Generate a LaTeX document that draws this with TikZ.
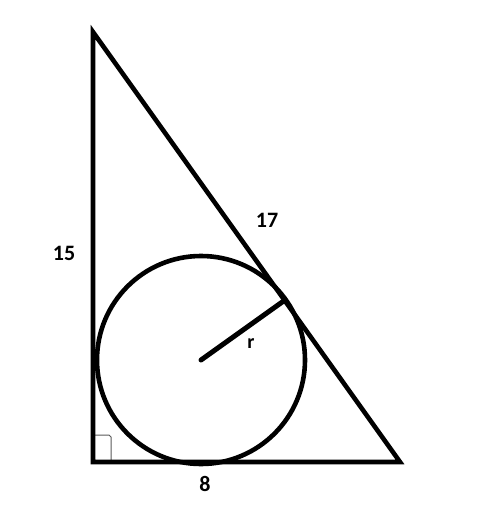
\documentclass[tikz,border=0pt]{standalone}
\usepackage{fontspec}
\setmainfont{Carlito}
\usetikzlibrary{calc}
\tikzset{
    side/.style={line width=4.6pt, line join=miter},
    lbl/.style={font=\fontsize{22}{26}\selectfont\bfseries, inner sep=0pt}
}
\begin{document}
\begin{tikzpicture}[x=1pt,y=-1pt]
    \useasboundingbox (0,0) rectangle (478,529);

    % Triangle corners (A top, B right angle, C right)
    \coordinate (A) at (93,32);
    \coordinate (B) at (93,462);
    \coordinate (C) at (400,462);

    % Incircle centre and tangent point on the hypotenuse
    \coordinate (O) at (201,360);
    \coordinate (T) at (285,300);

    % Right angle mark
    \draw[gray!70!black, line width=1pt] (93,435) -- (109,435) -- (111,437) -- (111,462);

    % Sides
    \draw[side] (A)--(B)--(C)--cycle;

    % Incircle and radius
    \draw[line width=4.6pt] (O) circle (104);
    \draw[line width=5pt, line cap=round] (O)--(T);

    % Labels
    \node[lbl] (a15) at (64,253) {15};
    \node[lbl] (a17) at (267,220) {17};
    \node[lbl] (a8) at (205,484) {8};
    \node[lbl, font=\fontsize{20}{24}\selectfont\bfseries] (ar) at (251,344) {r};
\end{tikzpicture}
\end{document}
